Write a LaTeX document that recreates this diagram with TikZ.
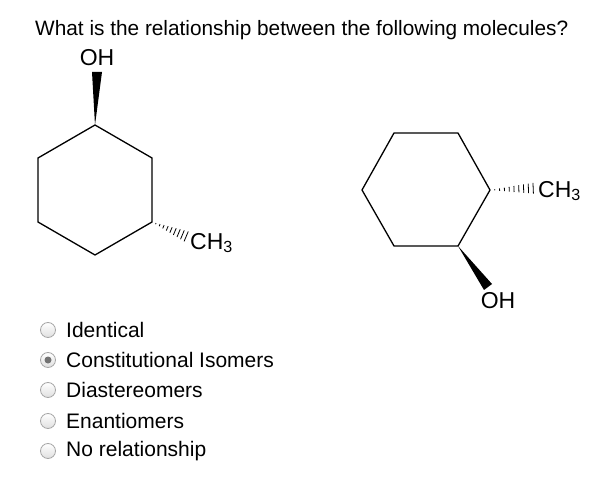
\documentclass[tikz,border=0pt]{standalone}
\usepackage{fontspec}
\setmainfont{Liberation Sans}
\usetikzlibrary{calc}
\begin{document}
\begin{tikzpicture}[x=1pt,y=-1pt,
  bond/.style={line width=1.3pt,line join=round},
  lbl/.style={inner sep=0pt,font=\fontsize{23}{26}\selectfont},
  ttl/.style={inner sep=0pt,font=\fontsize{20.8}{24}\selectfont},
  opt/.style={inner sep=0pt,anchor=west,font=\fontsize{21}{24}\selectfont},
  radio/.style={circle,draw=gray!70,line width=0.8pt,minimum size=15pt,inner sep=0pt,top color=white,bottom color=gray!25}]
\useasboundingbox (0,0) rectangle (614,492);
\node[ttl,anchor=west] (title) at (35,30) {What is the relationship between the following molecules?};
% left molecule
\coordinate (a1) at (95,125);
\coordinate (a2) at (152,158);
\coordinate (a3) at (152,222);
\coordinate (a4) at (95,255);
\coordinate (a5) at (38,222);
\coordinate (a6) at (38,158);
\draw[bond] (a1)--(a2)--(a3)--(a4)--(a5)--(a6)--cycle;
\node[lbl] (oh1) at (97,58) {OH};
\coordinate (w1) at (97,72);
\fill (a1) -- ($(w1)+(-5,0)$) -- ($(w1)+(5,0)$) -- cycle;
\node[lbl,anchor=west] (ch1) at (190,243) {CH\textsubscript{3}};
\coordinate (h1) at (190,238);
\foreach \t in {0.1,0.2,...,0.95}
  \draw[line width=0.8pt] ($(a3)!\t!(h1)!{\t*6pt}!90:(h1)$) -- ($(a3)!\t!(h1)!{-\t*6pt}!90:(h1)$);
% right molecule
\coordinate (b1) at (362,190);
\coordinate (b2) at (394,133);
\coordinate (b3) at (458,133);
\coordinate (b4) at (490,190);
\coordinate (b5) at (458,246);
\coordinate (b6) at (394,246);
\draw[bond] (b1)--(b2)--(b3)--(b4)--(b5)--(b6)--cycle;
\node[lbl,anchor=west] (ch2) at (538,191) {CH\textsubscript{3}};
\coordinate (h2) at (538,188);
\foreach \t in {0.1,0.2,...,0.95}
  \draw[line width=0.8pt] ($(b4)!\t!(h2)!{\t*6pt}!90:(h2)$) -- ($(b4)!\t!(h2)!{-\t*6pt}!90:(h2)$);
\node[lbl] (oh2) at (498,301) {OH};
\coordinate (w2) at (488,287);
\fill (b5) -- ($(w2)+(-4,3)$) -- ($(w2)+(4,-3)$) -- cycle;
% options
\foreach \y/\txt/\n in {330/Identical/1,360/Constitutional Isomers/2,390/Diastereomers/3,421/Enantiomers/4,451/No relationship/5}{
  \node[radio] (r\n) at (48,\y) {};
  \node[opt] (t\n) at (66,\y) {\txt};
}
\fill[gray!90!black] (r2) circle (3.5pt);
\end{tikzpicture}
\end{document}
